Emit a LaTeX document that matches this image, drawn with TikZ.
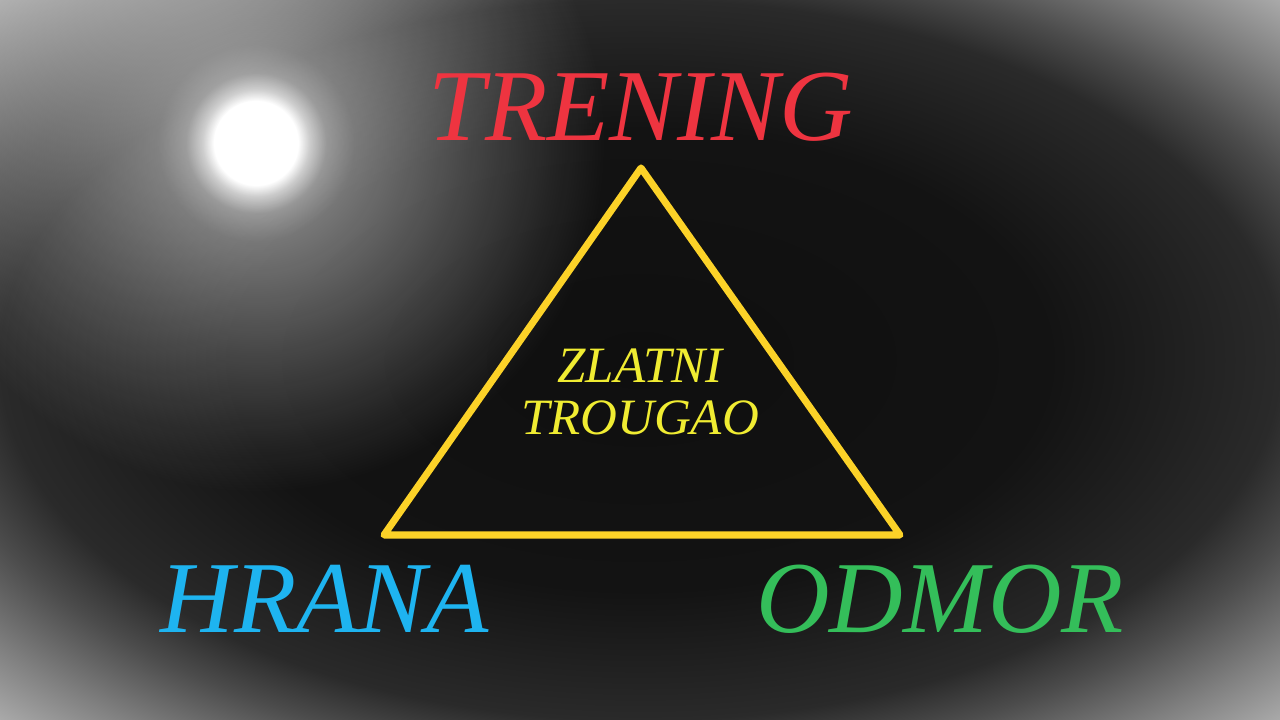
\documentclass[tikz,border=0pt]{standalone}
\usepackage{fontspec}
\setmainfont{Liberation Serif}
\usetikzlibrary{calc,positioning,fadings}

\definecolor{bgcore}{HTML}{0F0F0F}
\definecolor{bginner}{HTML}{131313}
\definecolor{bgedge}{HTML}{2A2A2A}
\definecolor{bgmid}{HTML}{4C4C4C}
\definecolor{bgouter}{HTML}{808080}
\definecolor{bgcorner}{HTML}{AAAAAA}
\definecolor{bglight}{HTML}{C4C4C4}
\definecolor{treningred}{HTML}{EE3440}
\definecolor{hranablue}{HTML}{1EB4F0}
\definecolor{odmorgreen}{HTML}{34BE5A}
\definecolor{goldtext}{HTML}{F0EC32}
\definecolor{trianglegold}{HTML}{FCD228}

% vignette of the background
\pgfdeclareradialshading{vignette}{\pgfpointorigin}{color(0bp)=(bgcore); color(16bp)=(bginner); color(25bp)=(bgedge); color(28bp)=(bgmid); color(32bp)=(bgouter); color(35.4bp)=(bgcorner); color(40bp)=(bglight); color(50bp)=(bglight)}

% glow round the sun
\pgfdeclareradialshading{sunglowshade}{\pgfpointorigin}{color(0bp)=(white); color(3bp)=(white); color(3.8bp)=(white!78!black); color(5bp)=(white!55!black); color(7bp)=(white!42!black); color(11bp)=(white!32!black); color(15bp)=(white!22!black); color(21bp)=(white!8!black); color(25bp)=(black); color(50bp)=(black)}
\pgfdeclarefading{sunglow}{\pgfuseshading{sunglowshade}}

\begin{document}
\begin{tikzpicture}[
    word/.style={font=\itshape\fontsize{29pt}{30pt}\selectfont, inner sep=0pt, anchor=base},
    centreword/.style={font=\itshape\fontsize{14.5pt}{15pt}\selectfont, inner sep=0pt, align=center, text=goldtext},
  ]
    \useasboundingbox (0,0) rectangle (12.8,7.2);
    \shade[shading=vignette] (0,0) rectangle (12.8,7.2);

    % sun
    \coordinate (cSunPt) at (2.56,5.77);
    \fill[white, path fading=sunglow] (cSunPt) circle (3.5);
    \fill[white] (cSunPt) circle (0.42);

    % triangle
    \coordinate (cTopPt) at (6.41,5.52);
    \coordinate (cLeftPt) at (3.84,1.85);
    \coordinate (cRightPt) at (9.00,1.85);
    \draw[trianglegold, line width=2pt, line join=round] (cTopPt) -- (cLeftPt) -- (cRightPt) -- cycle;

    \node[centreword] (nZlatni) at (6.40,3.28) {ZLATNI\\TROUGAO};

    \foreach \n/\x/\y/\c/\t in
    {nTrening/6.41/5.79/treningred/TRENING,
     nHrana/3.25/0.87/hranablue/HRANA,
     nOdmor/9.40/0.87/odmorgreen/ODMOR
    }
    {
        \node[word, text=\c] (\n) at (\x,\y) {\t};
    };

\end{tikzpicture}
\end{document}
